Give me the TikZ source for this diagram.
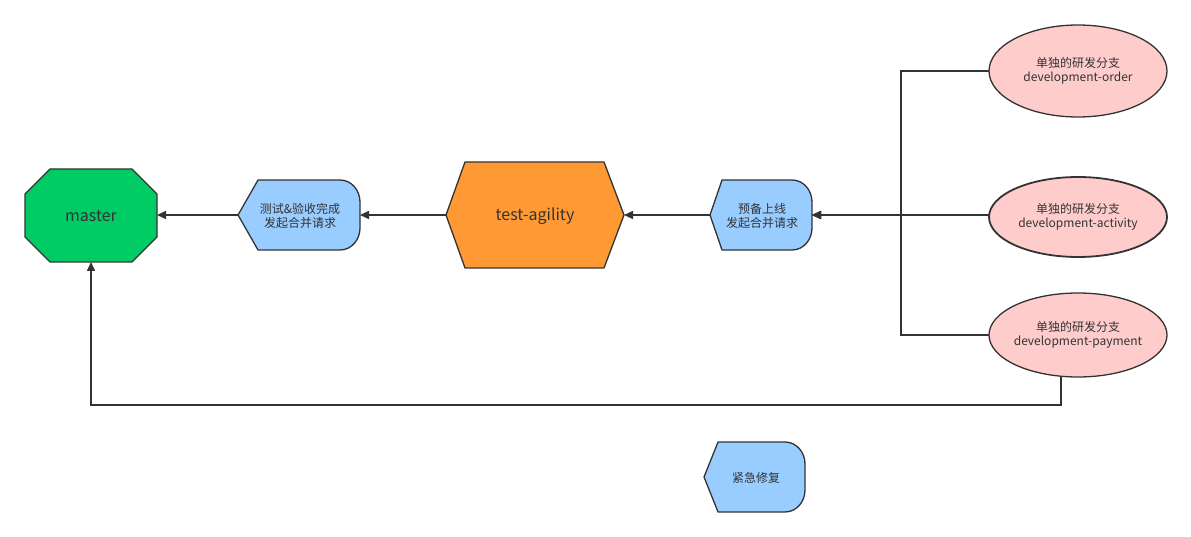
\documentclass[tikz,border=0pt]{standalone}
\usepackage{fontspec}
\setmainfont{Noto Sans CJK SC}
\usetikzlibrary{arrows.meta}
\definecolor{ln}{HTML}{333333}
\definecolor{gr}{HTML}{00CC66}
\definecolor{bl}{HTML}{99CCFF}
\definecolor{og}{HTML}{FF9933}
\definecolor{pk}{HTML}{FFCCCC}
\tikzset{shp/.style={draw=ln,line width=1.3pt,line join=round},
 con/.style={draw=ln,line width=1.5pt,-{Triangle[length=9pt,width=8pt]}},
 lbl/.style={font=\fontsize{12}{14}\selectfont,text=ln,align=center},
 big/.style={font=\fontsize{16}{18}\selectfont,text=ln}}
\begin{document}
\begin{tikzpicture}[x=1pt,y=-1pt]
\useasboundingbox (0,0) rectangle (1191,537);
% master
\draw[shp,fill=gr] (50,169)--(132,169)--(157,194)--(157,237)--(132,262)--(50,262)--(25,237)--(25,194)--cycle;
\node[big] (master) at (91,216) {master};
\coordinate (mR) at (157,215); \coordinate (mB) at (91,262);
% blue 1
\draw[shp,fill=bl] (340,180) to[out=0,in=90] (360,202) -- (360,228) to[out=-90,in=0] (340,250) -- (258,250) -- (238,215) -- (258,180) -- cycle;
\node[lbl] (b1) at (300,216) {测试\&验收完成\\发起合并请求};
\coordinate (b1L) at (238,215); \coordinate (b1R) at (360,215);
% hexagon
\draw[shp,fill=og] (446,215)--(465,162)--(604,162)--(624,215)--(604,268)--(465,268)--cycle;
\node[big] (ta) at (535,216) {test-agility};
\coordinate (tL) at (446,215); \coordinate (tR) at (624,215);
% blue 2
\draw[shp,fill=bl] (792,180) to[out=0,in=90] (812,202) -- (812,228) to[out=-90,in=0] (792,250) -- (722,250) -- (710,215) -- (722,180) -- cycle;
\node[lbl] (b2) at (762,216) {预备上线\\发起合并请求};
\coordinate (b2L) at (710,215); \coordinate (b2R) at (812,215);
% urgent
\draw[shp,fill=bl] (785,442) to[out=0,in=90] (805,464) -- (805,490) to[out=-90,in=0] (785,512) -- (718,512) -- (704,477) -- (718,442) -- cycle;
\node[lbl] (u) at (756,478) {紧急修复};
% ellipses
\draw[shp,fill=pk] (1078,71) ellipse[x radius=89,y radius=46];
\draw[shp,fill=pk,line width=1.8pt] (1078,217) ellipse[x radius=89,y radius=40];
\draw[shp,fill=pk] (1078,335) ellipse[x radius=89,y radius=42];
\node[lbl] (e1) at (1078,71) {单独的研发分支\\development-order};
\node[lbl] (e2) at (1078,217) {单独的研发分支\\development-activity};
\node[lbl] (e3) at (1078,335) {单独的研发分支\\development-payment};
\coordinate (e1L) at (989,71); \coordinate (e2L) at (989,215); \coordinate (e3L) at (989,335); \coordinate (e3B) at (1061,377);
% connectors
\draw[con] (b2L) -- (tR);
\draw[con] (tL) -- (b1R);
\draw[con] (b1L) -- (mR);
\draw[con] (e1L) -- (901,71) -- (901,215) -- (b2R);
\draw[con] (e3L) -- (901,335) -- (901,215) -- (b2R);
\draw[con] (e2L) -- (b2R);
\draw[con] (e3B) -- (1061,405) -- (91,405) -- (mB);
\end{tikzpicture}
\end{document}
